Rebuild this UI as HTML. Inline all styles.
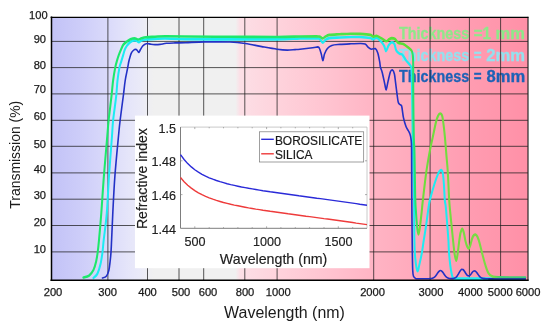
<!DOCTYPE html>
<html lang="en"><head><meta charset="utf-8"><title>Transmission of borosilicate glass</title>
<style>html,body{margin:0;padding:0;background:#fff;}body{width:550px;height:330px;overflow:hidden;}svg{display:block;}text{font-family:'Liberation Sans', Arial, sans-serif;}</style></head><body>
<svg width="550" height="330" viewBox="0 0 550 330">
<defs>
<linearGradient id="bg" gradientUnits="userSpaceOnUse" x1="51.3" y1="0" x2="527.8" y2="0">
<stop offset="0.0000" stop-color="#c2c2f7"/>
<stop offset="0.0602" stop-color="#cdcdf9"/>
<stop offset="0.1190" stop-color="#dadafa"/>
<stop offset="0.1610" stop-color="#e5e5fa"/>
<stop offset="0.1861" stop-color="#eaeaf8"/>
<stop offset="0.2008" stop-color="#eeeef3"/>
<stop offset="0.2155" stop-color="#f0f0f0"/>
<stop offset="0.3866" stop-color="#f0f0f0"/>
<stop offset="0.3960" stop-color="#fcdfe6"/>
<stop offset="0.4737" stop-color="#fed3dc"/>
<stop offset="0.5849" stop-color="#ffc3d0"/>
<stop offset="0.6772" stop-color="#ffb4c4"/>
<stop offset="0.7948" stop-color="#ffa6b9"/>
<stop offset="0.8787" stop-color="#ff9cb1"/>
<stop offset="0.9417" stop-color="#ff96ac"/>
<stop offset="1.0000" stop-color="#ff90a7"/>
</linearGradient>
</defs>
<rect x="0" y="0" width="550" height="330" fill="#ffffff"/>
<filter id="soft" x="0" y="0" width="550" height="330" filterUnits="userSpaceOnUse"><feGaussianBlur stdDeviation="0.4"/></filter>
<g filter="url(#soft)">
<rect x="51.3" y="17.3" width="476.5" height="263.0" fill="url(#bg)"/>
<g font-weight="bold" font-size="15.6px" stroke-width="0.3">
<text y="38.9" fill="#8ee889" stroke="#8ee889"><tspan x="399.0" textLength="70.2" lengthAdjust="spacingAndGlyphs">Thickness</tspan> <tspan x="473.8" textLength="17.2" lengthAdjust="spacingAndGlyphs">=1</tspan> <tspan x="495.6" textLength="29.4" lengthAdjust="spacingAndGlyphs">mm</tspan></text>
<text y="61.0" fill="#93e1ef" stroke="#93e1ef"><tspan x="399.0" textLength="70.2" lengthAdjust="spacingAndGlyphs">Thickness</tspan> <tspan x="473.8" textLength="7.8" lengthAdjust="spacingAndGlyphs">=</tspan> <tspan x="486.2" textLength="38.8" lengthAdjust="spacingAndGlyphs">2mm</tspan></text>
<text y="81.8" fill="#1f62b6" stroke="#1f62b6"><tspan x="399.0" textLength="70.2" lengthAdjust="spacingAndGlyphs">Thickness</tspan> <tspan x="473.8" textLength="7.8" lengthAdjust="spacingAndGlyphs">=</tspan> <tspan x="486.4" textLength="38.8" lengthAdjust="spacingAndGlyphs">8mm</tspan></text>
</g>
<g stroke="#1c1c1c" stroke-opacity="0.74" stroke-width="1.0" fill="none">
<line x1="107.9" y1="17.3" x2="107.9" y2="280.3"/>
<line x1="147.5" y1="17.3" x2="147.5" y2="280.3"/>
<line x1="179.0" y1="17.3" x2="179.0" y2="280.3"/>
<line x1="203.7" y1="17.3" x2="203.7" y2="280.3"/>
<line x1="244.8" y1="17.3" x2="244.8" y2="280.3"/>
<line x1="277.1" y1="17.3" x2="277.1" y2="280.3"/>
<line x1="373.7" y1="17.3" x2="373.7" y2="280.3"/>
<line x1="430.1" y1="17.3" x2="430.1" y2="280.3"/>
<line x1="469.4" y1="17.3" x2="469.4" y2="280.3"/>
<line x1="500.6" y1="17.3" x2="500.6" y2="280.3"/>
<line x1="51.3" y1="41.4" x2="527.8" y2="41.4"/>
<line x1="51.3" y1="67.6" x2="527.8" y2="67.6"/>
<line x1="51.3" y1="93.9" x2="527.8" y2="93.9"/>
<line x1="51.3" y1="120.3" x2="527.8" y2="120.3"/>
<line x1="51.3" y1="146.3" x2="527.8" y2="146.3"/>
<line x1="51.3" y1="172.9" x2="527.8" y2="172.9"/>
<line x1="51.3" y1="199.2" x2="527.8" y2="199.2"/>
<line x1="51.3" y1="225.5" x2="527.8" y2="225.5"/>
<line x1="51.3" y1="251.9" x2="527.8" y2="251.9"/>
</g>
<g fill="none" stroke-linejoin="round" stroke-linecap="round">
<path transform="scale(1,1.28)" d="M93.50,217.11C94.15,216.56 96.23,215.61 97.40,213.83C98.57,212.04 99.65,209.22 100.50,206.41C101.35,203.59 101.97,200.10 102.50,196.95C103.03,193.80 102.98,192.59 103.70,187.50C104.42,182.41 105.92,174.74 106.80,166.41C107.68,158.07 108.13,147.53 109.00,137.50C109.87,127.47 111.32,113.48 112.00,106.25C112.68,99.02 112.40,99.35 113.10,94.14C113.80,88.93 115.47,80.21 116.20,75.00C116.93,69.79 116.97,66.58 117.50,62.89C118.03,59.21 118.80,55.30 119.40,52.89C120.00,50.48 120.47,50.09 121.10,48.44C121.73,46.78 122.57,44.62 123.20,42.97C123.83,41.32 124.25,39.75 124.90,38.52C125.55,37.28 126.35,36.38 127.10,35.55C127.85,34.71 128.58,34.10 129.40,33.52C130.22,32.93 131.15,32.40 132.00,32.03C132.85,31.67 133.70,31.35 134.50,31.33C135.30,31.33 136.07,31.59 136.80,31.87C137.53,32.16 138.12,33.05 138.90,33.05C139.68,33.01 140.33,32.01 141.50,31.64C142.67,31.28 143.65,31.05 145.90,30.86C148.15,30.66 151.82,30.60 155.00,30.47C158.18,30.34 160.00,30.08 165.00,30.08C170.00,30.10 174.17,30.51 185.00,30.62C195.83,30.74 214.67,30.76 230.00,30.78C245.33,30.78 265.33,30.78 277.00,30.78C288.67,30.65 293.42,30.17 300.00,30.00C306.58,29.83 313.17,29.77 316.50,29.77C319.83,29.90 318.97,30.20 320.00,30.78C321.03,31.37 321.78,33.22 322.70,33.28C323.62,33.28 324.40,31.76 325.50,31.17C326.60,30.59 326.88,30.08 329.30,29.77C331.72,29.45 336.40,29.43 340.00,29.30C343.60,29.17 347.57,29.04 350.90,28.98C354.23,28.98 356.78,28.98 360.00,28.98C363.22,29.11 368.08,29.48 370.20,29.77C372.32,30.05 371.65,30.70 372.70,30.70C373.75,30.65 375.45,29.45 376.50,29.45C377.55,29.48 378.15,30.27 379.00,30.86C379.85,31.45 380.73,32.12 381.60,32.97C382.47,33.82 383.45,34.78 384.20,35.94C384.95,37.10 385.37,39.92 386.10,39.92C386.83,39.84 387.65,36.63 388.60,35.47C389.55,34.31 390.83,33.14 391.80,32.97C392.77,32.97 393.65,33.37 394.40,34.45C395.15,35.53 395.45,38.22 396.30,39.45C397.15,40.69 398.45,41.30 399.50,41.88C400.55,42.45 401.55,42.06 402.60,42.89C403.65,43.72 404.73,45.72 405.80,46.88C406.87,48.03 408.13,49.00 409.00,49.84C409.87,50.69 410.55,50.89 411.00,51.95C411.45,53.02 411.50,51.95 411.70,56.25C411.90,60.61 412.03,69.66 412.20,78.12C412.37,86.59 412.50,97.66 412.70,107.03C412.90,116.41 413.18,126.17 413.40,134.38C413.62,142.58 413.83,147.40 414.00,156.25C414.17,165.10 414.20,179.95 414.40,187.50C414.60,195.05 414.67,197.50 415.20,201.56C415.73,205.62 416.88,211.09 417.60,211.88C418.32,211.88 418.78,208.66 419.50,206.25C420.22,203.84 421.23,200.29 421.90,197.42C422.57,194.56 422.80,192.60 423.50,189.06C424.20,185.52 425.25,180.73 426.10,176.17C426.95,171.61 427.97,165.04 428.60,161.72C429.23,158.40 428.93,159.23 429.90,156.25C430.87,153.27 433.05,147.21 434.40,143.83C435.75,140.44 437.07,137.67 438.00,135.94C438.93,134.21 439.43,133.95 440.00,133.44C440.57,132.93 440.93,132.89 441.40,132.89C441.87,133.18 442.38,133.33 442.80,135.16C443.22,136.98 443.57,140.31 443.90,143.83C444.23,147.34 444.48,153.27 444.80,156.25C445.12,159.23 445.38,158.40 445.80,161.72C446.22,165.04 446.87,171.88 447.30,176.17C447.73,180.47 448.12,183.96 448.40,187.50C448.68,191.04 448.68,194.10 449.00,197.42C449.32,200.74 449.88,204.78 450.30,207.42C450.72,210.07 450.97,211.59 451.50,213.28C452.03,214.97 452.08,216.85 453.50,217.58C454.92,217.66 453.50,217.64 460.00,217.66C471.92,217.66 514.17,217.66 525.00,217.66" stroke="#1cecf2" stroke-width="2.0"/>
<path d="M102.50,277.90C103.13,277.63 105.25,277.53 106.30,276.30C107.35,275.07 108.17,272.95 108.80,270.50C109.43,268.05 109.73,264.67 110.10,261.60C110.47,258.53 110.75,255.70 111.00,252.10C111.25,248.50 111.30,246.52 111.60,240.00C111.90,233.48 112.25,223.67 112.80,213.00C113.35,202.33 113.95,188.83 114.90,176.00C115.85,163.17 117.63,145.25 118.50,136.00C119.37,126.75 119.30,127.17 120.10,120.50C120.90,113.83 122.45,102.67 123.30,96.00C124.15,89.33 124.47,85.22 125.20,80.50C125.93,75.78 127.12,70.78 127.70,67.70C128.28,64.62 128.32,63.78 128.70,62.00C129.08,60.22 129.57,58.48 130.00,57.00C130.43,55.52 130.75,54.18 131.30,53.10C131.85,52.02 132.57,51.13 133.30,50.50C134.03,49.87 135.00,49.30 135.70,49.30C136.40,49.35 136.97,50.27 137.50,50.80C138.03,51.33 138.40,52.50 138.90,52.50C139.40,52.28 139.87,50.57 140.50,49.50C141.13,48.43 141.95,46.97 142.70,46.10C143.45,45.23 144.25,44.73 145.00,44.30C145.75,43.87 146.20,43.50 147.20,43.50C148.20,43.50 149.70,44.12 151.00,44.30C152.30,44.48 153.50,44.58 155.00,44.60C156.50,44.60 158.10,44.60 160.00,44.40C161.90,44.18 163.90,43.55 166.40,43.30C168.90,43.05 171.82,43.00 175.00,42.90C178.18,42.80 180.58,42.87 185.50,42.70C190.42,42.53 197.08,42.02 204.50,41.90C211.92,41.90 223.20,41.90 230.00,42.00C236.80,42.27 240.00,42.73 245.30,43.50C250.60,44.27 256.50,45.65 261.80,46.60C267.10,47.55 272.85,48.62 277.10,49.20C281.35,49.78 284.32,50.03 287.30,50.10C290.28,50.10 292.88,49.75 295.00,49.60C297.12,49.45 297.05,49.52 300.00,49.20C302.95,48.88 309.73,48.08 312.70,47.70C315.67,47.32 316.67,46.90 317.80,46.90C318.93,47.03 318.92,47.32 319.50,48.50C320.08,49.68 320.73,51.98 321.30,54.00C321.87,56.02 322.37,60.60 322.90,60.60C323.43,60.60 323.75,56.02 324.50,54.00C325.25,51.98 326.18,49.93 327.40,48.50C328.62,47.07 329.70,46.08 331.80,45.40C333.90,44.72 336.82,44.67 340.00,44.40C343.18,44.13 347.57,43.95 350.90,43.80C354.23,43.65 357.63,43.50 360.00,43.50C362.37,43.55 363.72,43.50 365.10,44.10C366.48,44.73 367.23,46.45 368.30,47.30C369.37,48.15 370.33,49.00 371.50,49.20C372.67,49.20 374.25,48.50 375.30,48.50C376.35,49.13 377.07,50.77 377.80,53.00C378.53,55.23 379.27,59.57 379.70,61.90C380.13,64.23 379.97,65.20 380.40,67.00C380.83,68.80 381.57,69.83 382.30,72.70C383.03,75.57 384.17,81.33 384.80,84.20C385.43,87.07 385.57,89.90 386.10,89.90C386.63,89.47 387.27,84.67 388.00,81.60C388.73,78.53 389.75,73.45 390.50,71.50C391.25,69.90 391.85,69.90 392.50,69.90C393.15,70.32 393.88,71.83 394.40,74.00C394.92,76.17 395.18,79.72 395.60,82.90C396.02,86.08 396.47,89.92 396.90,93.10C397.33,96.28 397.72,100.10 398.20,102.00C398.68,103.90 399.23,103.87 399.80,104.50C400.37,105.13 400.98,104.50 401.60,105.80C402.22,108.03 402.75,114.40 403.50,117.90C404.25,121.40 405.27,124.62 406.10,126.80C406.93,128.98 407.87,129.80 408.50,131.00C409.13,132.20 409.48,132.68 409.90,134.00C410.32,135.32 410.72,136.23 411.00,138.90C411.28,141.57 411.47,139.82 411.60,150.00C411.73,160.18 411.68,183.33 411.80,200.00C411.92,216.67 412.15,238.33 412.30,250.00C412.45,261.67 412.50,265.62 412.70,270.00C412.90,274.38 412.95,274.85 413.50,276.30C414.05,277.75 415.25,278.30 416.00,278.70C416.75,278.70 417.42,278.70 418.00,278.70C418.58,278.70 419.00,278.70 419.50,278.70C420.00,278.70 420.50,278.70 421.00,278.70C421.50,278.70 422.00,278.70 422.50,278.70C423.00,278.70 423.50,278.70 424.00,278.70C424.50,278.70 425.00,278.70 425.50,278.70C426.00,278.70 426.50,278.70 427.00,278.70C427.50,278.70 428.00,278.70 428.50,278.69C429.00,278.68 429.50,278.68 430.00,278.65C430.50,278.62 431.00,278.60 431.50,278.50C432.00,278.41 432.50,278.31 433.00,278.08C433.50,277.85 434.00,277.57 434.50,277.13C435.00,276.69 435.50,276.11 436.00,275.46C436.50,274.82 437.00,273.97 437.50,273.28C438.00,272.58 438.50,271.77 439.00,271.30C439.50,270.84 440.00,270.50 440.50,270.50C441.00,270.50 441.50,270.84 442.00,271.30C442.50,271.77 443.00,272.58 443.50,273.28C444.00,273.97 444.50,274.82 445.00,275.46C445.50,276.11 446.00,276.69 446.50,277.13C447.00,277.57 447.50,277.85 448.00,278.08C448.50,278.31 449.00,278.41 449.50,278.50C450.00,278.59 450.50,278.61 451.00,278.63C451.50,278.63 452.00,278.63 452.50,278.59C453.00,278.55 453.50,278.50 454.00,278.34C454.50,278.18 455.00,278.00 455.50,277.64C456.00,277.28 456.50,276.80 457.00,276.16C457.50,275.53 458.00,274.66 458.50,273.83C459.00,273.00 459.50,271.93 460.00,271.20C460.50,270.46 461.00,269.71 461.50,269.42C462.00,269.42 462.50,269.42 463.00,269.48C463.50,269.79 464.00,270.59 464.50,271.30C465.00,272.02 465.50,273.06 466.00,273.77C466.50,274.49 467.00,275.21 467.50,275.57C468.00,275.90 468.50,275.90 469.00,275.90C469.50,275.77 470.00,275.27 470.50,274.75C471.00,274.24 471.50,273.39 472.00,272.79C472.50,272.19 473.00,271.47 473.50,271.16C474.00,270.89 474.50,270.89 475.00,270.89C475.50,271.07 476.00,271.62 476.50,272.20C477.00,272.78 477.50,273.66 478.00,274.36C478.50,275.05 479.00,275.81 479.50,276.37C480.00,276.93 480.50,277.37 481.00,277.70C481.50,278.03 482.00,278.20 482.50,278.35C483.00,278.50 483.50,278.55 484.00,278.60C484.50,278.66 485.00,278.66 485.50,278.68C486.00,278.69 486.50,278.69 487.00,278.70C487.50,278.70 488.00,278.70 488.50,278.70C489.00,278.70 488.50,278.70 490.00,278.70C496.13,278.70 519.42,278.70 525.30,278.70" stroke="#2430c6" stroke-width="1.6"/>
<path transform="scale(1,1.28)" d="M83.40,216.80C84.35,216.55 87.42,216.30 89.10,215.31C90.78,214.32 92.33,212.68 93.50,210.86C94.67,209.04 95.40,206.69 96.10,204.38C96.80,202.06 97.22,199.77 97.70,196.95C98.18,194.14 98.40,192.59 99.00,187.50C99.60,182.41 100.48,174.74 101.30,166.41C102.12,158.07 102.90,147.53 103.90,137.50C104.90,127.47 106.52,113.48 107.30,106.25C108.08,99.02 107.90,99.35 108.60,94.14C109.30,88.93 110.75,80.21 111.50,75.00C112.25,69.79 112.48,66.58 113.10,62.89C113.72,59.21 114.52,55.56 115.20,52.89C115.88,50.22 116.60,48.53 117.20,46.88C117.80,45.22 118.15,44.36 118.80,42.97C119.45,41.58 120.32,39.88 121.10,38.52C121.88,37.15 122.55,35.77 123.50,34.77C124.45,33.76 125.63,33.18 126.80,32.50C127.97,31.82 129.22,31.15 130.50,30.70C131.78,30.26 133.20,29.84 134.50,29.84C135.80,29.87 137.13,30.85 138.30,30.86C139.47,30.86 140.23,30.22 141.50,29.92C142.77,29.62 143.65,29.27 145.90,29.06C148.15,28.85 151.82,28.80 155.00,28.67C158.18,28.54 160.00,28.31 165.00,28.28C170.00,28.28 174.17,28.44 185.00,28.52C195.83,28.59 214.67,28.68 230.00,28.75C245.33,28.82 265.33,28.91 277.00,28.91C288.67,28.87 293.42,28.62 300.00,28.52C306.58,28.41 313.17,28.28 316.50,28.28C319.83,28.32 318.97,28.46 320.00,28.75C321.03,29.04 321.78,30.00 322.70,30.00C323.62,29.96 324.40,28.97 325.50,28.52C326.60,28.06 326.88,27.57 329.30,27.27C331.72,26.97 336.40,26.88 340.00,26.72C343.60,26.56 347.57,26.37 350.90,26.33C354.23,26.33 356.78,26.33 360.00,26.48C363.22,26.64 367.97,26.90 370.20,27.27C372.43,27.63 372.35,28.55 373.40,28.67C374.45,28.67 375.13,27.97 376.50,27.97C377.87,28.19 380.00,29.28 381.60,30.00C383.20,30.72 384.87,32.15 386.10,32.27C387.33,32.27 388.05,31.12 389.00,30.70C389.95,30.29 390.80,29.80 391.80,29.77C392.80,29.77 393.93,29.86 395.00,30.47C396.07,31.08 396.82,32.77 398.20,33.44C399.58,34.10 401.60,33.82 403.30,34.45C405.00,35.09 407.03,36.43 408.40,37.27C409.77,38.10 410.80,38.63 411.50,39.45C412.20,40.27 412.35,41.20 412.60,42.19C412.85,43.18 412.90,43.70 413.00,45.39C413.10,47.08 413.15,46.89 413.20,52.34C413.25,57.80 413.20,69.01 413.30,78.12C413.40,87.24 413.62,100.52 413.80,107.03C413.98,113.54 414.23,112.63 414.40,117.19C414.57,121.74 414.65,127.86 414.80,134.38C414.95,140.89 415.07,150.65 415.30,156.25C415.53,161.85 415.87,164.32 416.20,167.97C416.53,171.61 416.92,175.60 417.30,178.12C417.68,180.65 418.08,183.12 418.50,183.12C418.92,183.12 419.28,180.95 419.80,178.12C420.32,175.30 421.08,169.82 421.60,166.17C422.12,162.53 422.12,161.55 422.90,156.25C423.68,150.95 425.12,140.89 426.30,134.38C427.48,127.86 428.92,121.74 430.00,117.19C431.08,112.63 431.80,110.68 432.80,107.03C433.80,103.39 435.13,98.05 436.00,95.31C436.87,92.58 437.32,91.73 438.00,90.62C438.68,89.52 439.40,88.67 440.10,88.67C440.80,88.67 441.62,89.13 442.20,90.62C442.78,92.12 443.15,94.92 443.60,97.66C444.05,100.39 444.43,103.12 444.90,107.03C445.37,110.94 445.92,116.54 446.40,121.09C446.88,125.65 447.33,128.52 447.80,134.38C448.27,140.23 448.75,150.65 449.20,156.25C449.65,161.85 450.10,164.58 450.50,167.97C450.90,171.35 451.13,172.96 451.60,176.56C452.07,180.17 452.80,185.96 453.30,189.61C453.80,193.26 454.12,196.09 454.60,198.44C455.08,200.78 455.70,203.67 456.20,203.67C456.70,203.67 457.13,200.78 457.60,198.44C458.07,196.09 458.52,192.34 459.00,189.61C459.48,186.88 459.95,183.84 460.50,182.03C461.05,180.22 461.73,178.75 462.30,178.75C462.87,178.75 463.37,180.43 463.90,182.03C464.43,183.63 464.95,186.60 465.50,188.36C466.05,190.12 466.65,191.61 467.20,192.58C467.75,193.54 468.27,194.14 468.80,194.14C469.33,193.95 469.85,192.70 470.40,191.41C470.95,190.12 471.53,187.67 472.10,186.41C472.67,185.14 473.25,184.36 473.80,183.83C474.35,183.29 474.80,183.20 475.40,183.20C476.00,183.40 476.72,183.93 477.40,185.00C478.08,186.07 478.75,187.59 479.50,189.61C480.25,191.63 480.95,194.27 481.90,197.11C482.85,199.95 484.10,203.92 485.20,206.64C486.30,209.36 487.27,211.86 488.50,213.44C489.73,215.01 490.83,215.55 492.60,216.09C494.37,216.64 493.65,216.60 499.10,216.72C504.55,216.80 520.93,216.78 525.30,216.80" stroke="url(#gg)" stroke-width="2.05"/>
<path d="M489,279.0L525.3,279.0" stroke="#1e2a9a" stroke-width="1.7"/>
</g>
<defs><linearGradient id="gg" gradientUnits="userSpaceOnUse" x1="51" y1="0" x2="528" y2="0"><stop offset="0" stop-color="#1fe86c"/><stop offset="0.4801" stop-color="#1fe86c"/><stop offset="0.5954" stop-color="#4ee248"/><stop offset="0.7553" stop-color="#5ae032"/><stop offset="0.7581" stop-color="#22e46e"/><stop offset="0.7658" stop-color="#22e46e"/><stop offset="0.7698" stop-color="#6edc3a"/><stop offset="0.9245" stop-color="#7cdc46"/><stop offset="0.9413" stop-color="#46cf72"/><stop offset="1" stop-color="#3ec97c"/></linearGradient></defs>
<g stroke="#000" fill="none" stroke-linecap="square">
<line x1="51.3" y1="17.3" x2="527.8" y2="17.3" stroke-width="1.3"/>
<line x1="528.0" y1="17.3" x2="528.0" y2="280.3" stroke-width="1.0"/>
<line x1="51.3" y1="280.3" x2="527.8" y2="280.3" stroke-width="1.6"/>
<line x1="51.5" y1="17.3" x2="51.5" y2="280.3" stroke-width="1.5"/>
</g>
<g font-size="11.1px" fill="#1a1a1a" stroke="#1a1a1a" stroke-width="0.25" text-anchor="end">
<text x="47.6" y="19.3">100</text>
<text x="46.0" y="43.3">90</text>
<text x="46.0" y="69.4">80</text>
<text x="46.0" y="93.4">70</text>
<text x="46.0" y="119.9">60</text>
<text x="46.0" y="147.9">50</text>
<text x="46.0" y="173.2">40</text>
<text x="46.0" y="198.8">30</text>
<text x="46.0" y="225.8">20</text>
<text x="46.0" y="252.9">10</text>
</g>
<g font-size="11.2px" fill="#1a1a1a" stroke="#1a1a1a" stroke-width="0.25" text-anchor="middle">
<text x="53.0" y="295.5">200</text>
<text x="107.7" y="295.5">300</text>
<text x="147.5" y="295.5">400</text>
<text x="181.0" y="295.5">500</text>
<text x="208.0" y="295.5">600</text>
<text x="245.0" y="295.5">800</text>
<text x="278.3" y="295.5">1000</text>
<text x="372.6" y="295.5">2000</text>
<text x="431.0" y="295.5">3000</text>
<text x="470.4" y="295.5">4000</text>
<text x="500.3" y="295.5">5000</text>
<text x="528.1" y="295.5">6000</text>
</g>
<text x="224.1" y="318.3" font-size="16px" fill="#1a1a1a" textLength="120.8" lengthAdjust="spacingAndGlyphs">Wavelength (nm)</text>
<text transform="translate(19.6,208.7) rotate(-90)" font-size="14px" fill="#1a1a1a" textLength="107.9" lengthAdjust="spacingAndGlyphs">Transmission (%)</text>
<rect x="135" y="115.6" width="234.5" height="152.6" fill="#ffffff"/>
<path d="M180.5,127.1H367.0V228.3" fill="none" stroke="#bdbdbd" stroke-width="0.8"/>
<path d="M180.5,127.1V228.3H367.0" fill="none" stroke="#6e6e6e" stroke-width="0.9"/>
<g stroke="#8a8a8a" stroke-width="0.7">
<line x1="194.8" y1="228.3" x2="194.8" y2="226.3"/>
<line x1="194.8" y1="127.1" x2="194.8" y2="129.1"/>
<line x1="209.2" y1="228.3" x2="209.2" y2="227.1"/>
<line x1="209.2" y1="127.1" x2="209.2" y2="128.3"/>
<line x1="223.5" y1="228.3" x2="223.5" y2="227.1"/>
<line x1="223.5" y1="127.1" x2="223.5" y2="128.3"/>
<line x1="237.9" y1="228.3" x2="237.9" y2="227.1"/>
<line x1="237.9" y1="127.1" x2="237.9" y2="128.3"/>
<line x1="252.2" y1="228.3" x2="252.2" y2="227.1"/>
<line x1="252.2" y1="127.1" x2="252.2" y2="128.3"/>
<line x1="266.6" y1="228.3" x2="266.6" y2="226.3"/>
<line x1="266.6" y1="127.1" x2="266.6" y2="129.1"/>
<line x1="280.9" y1="228.3" x2="280.9" y2="227.1"/>
<line x1="280.9" y1="127.1" x2="280.9" y2="128.3"/>
<line x1="295.3" y1="228.3" x2="295.3" y2="227.1"/>
<line x1="295.3" y1="127.1" x2="295.3" y2="128.3"/>
<line x1="309.6" y1="228.3" x2="309.6" y2="227.1"/>
<line x1="309.6" y1="127.1" x2="309.6" y2="128.3"/>
<line x1="324.0" y1="228.3" x2="324.0" y2="227.1"/>
<line x1="324.0" y1="127.1" x2="324.0" y2="128.3"/>
<line x1="338.3" y1="228.3" x2="338.3" y2="226.3"/>
<line x1="338.3" y1="127.1" x2="338.3" y2="129.1"/>
<line x1="352.7" y1="228.3" x2="352.7" y2="227.1"/>
<line x1="352.7" y1="127.1" x2="352.7" y2="128.3"/>
<line x1="180.5" y1="194.6" x2="182.5" y2="194.6"/>
<line x1="367.0" y1="194.6" x2="365.0" y2="194.6"/>
<line x1="180.5" y1="160.8" x2="182.5" y2="160.8"/>
<line x1="367.0" y1="160.8" x2="365.0" y2="160.8"/>
</g>
<polyline points="180.5,154.6 184.1,159.5 187.7,163.6 191.3,166.9 194.8,169.8 198.4,172.2 202.0,174.3 205.6,176.2 209.2,177.8 212.8,179.2 216.4,180.5 220.0,181.7 223.5,182.7 227.1,183.7 230.7,184.6 234.3,185.4 237.9,186.2 241.5,187.0 245.1,187.6 248.6,188.3 252.2,188.9 255.8,189.5 259.4,190.1 263.0,190.7 266.6,191.2 270.2,191.8 273.8,192.3 277.3,192.8 280.9,193.3 284.5,193.8 288.1,194.3 291.7,194.8 295.3,195.3 298.9,195.8 302.4,196.2 306.0,196.7 309.6,197.2 313.2,197.7 316.8,198.2 320.4,198.6 324.0,199.1 327.5,199.6 331.1,200.1 334.7,200.6 338.3,201.1 341.9,201.6 345.5,202.1 349.1,202.6 352.7,203.1 356.2,203.6 359.8,204.2 363.4,204.7 367.0,205.2" fill="none" stroke="#2a2ad8" stroke-width="1.4"/>
<polyline points="180.5,177.5 184.1,181.7 187.7,185.2 191.3,188.1 194.8,190.6 198.4,192.8 202.0,194.7 205.6,196.4 209.2,197.9 212.8,199.2 216.4,200.4 220.0,201.5 223.5,202.5 227.1,203.4 230.7,204.3 234.3,205.1 237.9,205.8 241.5,206.5 245.1,207.2 248.6,207.9 252.2,208.5 255.8,209.1 259.4,209.6 263.0,210.2 266.6,210.7 270.2,211.3 273.8,211.8 277.3,212.3 280.9,212.8 284.5,213.3 288.1,213.8 291.7,214.2 295.3,214.7 298.9,215.2 302.4,215.7 306.0,216.2 309.6,216.6 313.2,217.1 316.8,217.6 320.4,218.1 324.0,218.6 327.5,219.0 331.1,219.5 334.7,220.0 338.3,220.5 341.9,221.0 345.5,221.5 349.1,222.0 352.7,222.5 356.2,223.1 359.8,223.6 363.4,224.1 367.0,224.6" fill="none" stroke="#ee3a3a" stroke-width="1.4"/>
<rect x="259.5" y="131.8" width="104.2" height="30.2" fill="#fff" stroke="#777" stroke-width="0.7"/>
<line x1="261.2" y1="139.3" x2="273.8" y2="139.3" stroke="#2a2ad8" stroke-width="1.4"/>
<line x1="261.2" y1="153.8" x2="273.8" y2="153.8" stroke="#ee3a3a" stroke-width="1.4"/>
<g font-size="12.5px" fill="#1a1a1a" stroke="#1a1a1a" stroke-width="0.2">
<text x="274.9" y="144.8" textLength="87.4" lengthAdjust="spacingAndGlyphs">BOROSILICATE</text>
<text x="274.9" y="159.4" textLength="37.6" lengthAdjust="spacingAndGlyphs">SILICA</text>
</g>
<g font-size="12.6px" fill="#202020" stroke="#202020" stroke-width="0.15" text-anchor="end">
<text x="176.0" y="132.6">1.5</text>
<text x="176.0" y="166.3">1.48</text>
<text x="176.0" y="200.1">1.46</text>
<text x="176.0" y="233.8">1.44</text>
</g>
<g font-size="12.6px" fill="#202020" stroke="#202020" stroke-width="0.15" text-anchor="middle">
<text x="195.1" y="246.1">500</text>
<text x="266.9" y="246.1">1000</text>
<text x="338.6" y="246.1">1500</text>
</g>
<text x="273.6" y="264.3" font-size="14.2px" fill="#202020" stroke="#202020" stroke-width="0.15" text-anchor="middle">Wavelength (nm)</text>
<text transform="translate(147.3,229.1) rotate(-90)" font-size="14px" fill="#202020" stroke="#202020" stroke-width="0.15" textLength="101" lengthAdjust="spacingAndGlyphs">Refractive index</text>
</g>
</svg>
</body></html>
